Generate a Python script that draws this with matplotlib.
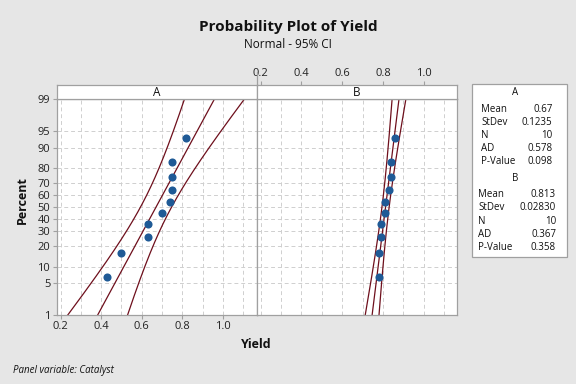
"""Minitab-style normal probability plot of Yield, paneled by Catalyst."""
from statistics import NormalDist
import matplotlib; matplotlib.use("Agg")
import matplotlib.pyplot as plt
from matplotlib.lines import Line2D
from matplotlib.patches import Rectangle
import numpy as np

plt.rcParams["font.family"] = ["Open Sans", "DejaVu Sans"]

catalysts = ["A", "B"]
yield_a = [0.43, 0.50, 0.63, 0.63, 0.70, 0.74, 0.75, 0.75, 0.75, 0.82]
yield_b = [0.78, 0.78, 0.79, 0.79, 0.81, 0.81, 0.83, 0.84, 0.84, 0.86]
ad_stats = [0.578, 0.367]
p_values = [0.098, 0.358]
pct_ticks = [1, 5, 10, 20, 30, 40, 50, 60, 70, 80, 90, 95, 99]
x_ticks = [0.2, 0.4, 0.6, 0.8, 1.0]
x_grid = [0.2, 0.3, 0.4, 0.5, 0.6, 0.7, 0.8, 0.9, 1.0, 1.1]

W, H = 576, 384
BG = "#e6e6e6"
EDGE = "#a0a0a0"
LINE = "#6e0f1c"
DOT = "#1f5a96"
nd = NormalDist()


def fx(x):
    return x / W


def fy(y):
    return 1 - y / H


fig = plt.figure(figsize=(W / 100, H / 100), dpi=100, facecolor=BG)

zlo, zhi = nd.inv_cdf(0.01), nd.inv_cdf(0.99)
xlim = (0.18, 1.165)
panels_px = [(56.5, 256.5), (256.5, 457.3)]
top_px, bot_px, strip_px = 99.3, 315, 85

for k, (data, (x0, x1)) in enumerate(zip([yield_a, yield_b], panels_px)):
    ax = fig.add_axes([fx(x0), fy(bot_px), fx(x1 - x0), fy(top_px) - fy(bot_px)])
    ax.set_facecolor("white")
    ax.set_xlim(*xlim)
    ax.set_ylim(zlo, zhi)
    for s in ax.spines.values():
        s.set_color(EDGE); s.set_linewidth(0.9)

    for g in x_grid:
        ax.axvline(g, color="#cfcfcf", lw=0.7, ls=(0, (4, 3)), zorder=0)
    for p in pct_ticks[1:-1]:
        ax.axhline(nd.inv_cdf(p / 100), color="#cfcfcf", lw=0.7, ls=(0, (4, 3)), zorder=0)

    x = np.sort(np.array(data))
    n = len(x)
    mu, sd = x.mean(), x.std(ddof=1)
    ranks = (np.arange(1, n + 1) - 0.3) / (n + 0.4)
    zp = np.array([nd.inv_cdf(r) for r in ranks])

    zz = np.linspace(zlo, zhi, 200)
    fit = mu + zz * sd
    half = 1.96 * sd * np.sqrt(1 / n + zz ** 2 / (2 * n))
    for curve in (fit - half, fit, fit + half):
        ax.plot(curve, zz, color=LINE, lw=0.9, zorder=2)
    ax.scatter(x, zp, s=34, color=DOT, zorder=3, linewidths=0)

    ax.set_yticks([nd.inv_cdf(p / 100) for p in pct_ticks])
    ax.set_xticks(x_ticks)
    ax.tick_params(length=3, color=EDGE, labelsize=8, labelcolor="#222222", pad=1.5)
    if k == 0:
        ax.set_yticklabels([str(p) for p in pct_ticks])
        ax.set_xticklabels([f"{t:.1f}" for t in x_ticks])
    else:
        ax.tick_params(left=False, labelleft=False, bottom=False, labelbottom=False)

    # strip header
    sax = fig.add_axes([fx(x0), fy(top_px), fx(x1 - x0), fy(strip_px) - fy(top_px)])
    sax.set_facecolor("white")
    sax.set_xlim(*xlim)
    sax.set_yticks([])
    for s in sax.spines.values():
        s.set_color(EDGE); s.set_linewidth(0.9)
    sax.text(0.5, 0.45, catalysts[k], transform=sax.transAxes, ha="center",
             va="center", fontsize=8.5, color="#111111")
    if k == 1:
        sax.xaxis.tick_top()
        sax.set_xticks(x_ticks)
        sax.set_xticklabels([f"{t:.1f}" for t in x_ticks])
        sax.tick_params(length=3, color=EDGE, labelsize=8, labelcolor="#222222", pad=1.5)
    else:
        sax.set_xticks([])

fig.add_artist(Line2D([fx(256.5), fx(256.5)], [fy(72), fy(strip_px)], color=EDGE, lw=0.9))

# titles and labels
fig.text(fx(288), fy(27), "Probability Plot of Yield", ha="center", va="center",
         fontsize=11, weight="bold", color="#111111")
fig.text(fx(288), fy(45), "Normal - 95% CI", ha="center", va="center",
         fontsize=8.5, color="#111111")
fig.text(fx(22), fy(200), "Percent", ha="center", va="center", rotation=90,
         fontsize=9, weight="bold", color="#111111")
fig.text(fx(256), fy(344), "Yield", ha="center", va="center",
         fontsize=9, weight="bold", color="#111111")
fig.text(fx(13), fy(370), "Panel variable: Catalyst", ha="left", va="center",
         fontsize=7, style="italic", color="#111111")

# statistics table
fig.add_artist(Rectangle((fx(472.3), fy(257.3)), fx(94.4), fy(84) - fy(257.3),
                         transform=fig.transFigure, facecolor="white",
                         edgecolor=EDGE, lw=0.9))
blocks = [(yield_a, 0, 92.7, 481, 552.5), (yield_b, 1, 178.3, 478, 556)]
for data, k, y0, lx, rx in blocks:
    arr = np.array(data)
    mu, sd = arr.mean(), arr.std(ddof=1)
    vals = [f"{mu:.2f}" if k == 0 else f"{mu:.3f}",
            f"{sd:.4f}" if k == 0 else f"{sd:.5f}",
            f"{len(arr)}", f"{ad_stats[k]:.3f}", f"{p_values[k]:.3f}"]
    labels = ["Mean", "StDev", "N", "AD", "P-Value"]
    fig.text(fx(515), fy(y0), catalysts[k], ha="center", va="center",
             fontsize=7, color="#111111")
    for j, (lab, v) in enumerate(zip(labels, vals)):
        yy = y0 + 16.5 + j * 13.1
        fig.text(fx(lx), fy(yy), lab, ha="left", va="center", fontsize=7, color="#111111")
        fig.text(fx(rx), fy(yy), v, ha="right", va="center", fontsize=7, color="#111111")

fig.savefig("out.png", dpi=100, facecolor=BG)
